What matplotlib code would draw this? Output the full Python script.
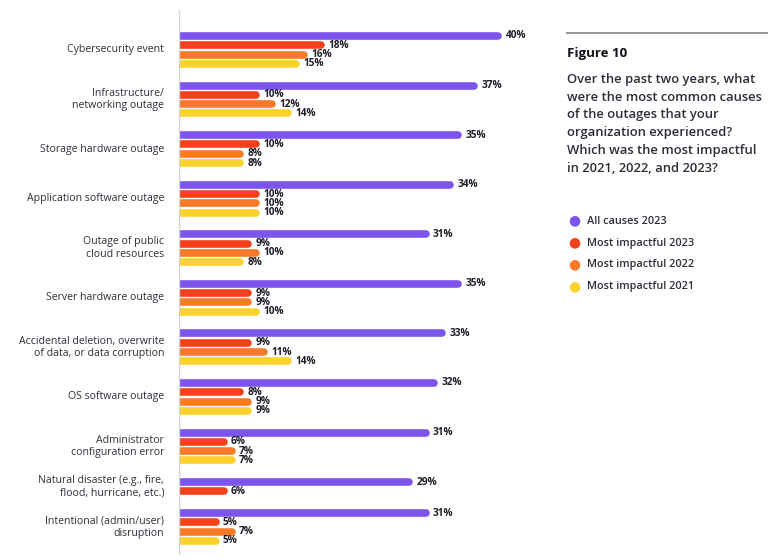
"""Figure 10: most common and most impactful causes of outages."""
import matplotlib.pyplot as plt
import numpy as np

plt.rcParams["font.family"] = ["Open Sans", "DejaVu Sans"]

categories = [
    "Cybersecurity event",
    "Infrastructure/\nnetworking outage",
    "Storage hardware outage",
    "Application software outage",
    "Outage of public\ncloud resources",
    "Server hardware outage",
    "Accidental deletion, overwrite\nof data, or data corruption",
    "OS software outage",
    "Administrator\nconfiguration error",
    "Natural disaster (e.g., fire,\nflood, hurricane, etc.)",
    "Intentional (admin/user)\ndisruption",
]
all_causes_2023 = [40, 37, 35, 34, 31, 35, 33, 32, 31, 29, 31]
impactful_2023 = [18, 10, 10, 10, 9, 9, 9, 8, 6, 6, 5]
impactful_2022 = [16, 12, 8, 10, 10, 9, 11, 9, 7, None, 7]
impactful_2021 = [15, 14, 8, 10, 8, 10, 14, 9, 7, None, 5]

series_names = ["All causes 2023", "Most impactful 2023", "Most impactful 2022", "Most impactful 2021"]
series_values = [all_causes_2023, impactful_2023, impactful_2022, impactful_2021]
colors = ["#7B55EC", "#F4411C", "#F97A26", "#FDD22F"]
text_color = "#2E2E3A"

W, H = 768, 559
fig = plt.figure(figsize=(W / 100, H / 100), dpi=100)
ax_left, ax_right, ax_top, ax_bottom = 179, 532, 10, 555
ax = fig.add_axes([ax_left / W, 1 - ax_bottom / H, (ax_right - ax_left) / W, (ax_bottom - ax_top) / H])

gap = 1.33
xmax = 43.7
px_per_unit = (ax_right - ax_left) / xmax
bar_px = 7.6
lw = bar_px * 72 / 100
cap = (bar_px / 2) / px_per_unit

y = 0.0
centers = []
for i, cat in enumerate(categories):
    ys = []
    for s, vals in enumerate(series_values):
        v = vals[i]
        if v is None:
            continue
        ax.hlines(y, 0, v - cap, color=colors[s], linewidth=lw, capstyle="round")
        ax.text(v + 0.45, y, f"{v}%", va="center", ha="left", fontsize=7.3,
                fontweight="bold", color="#1E1E28")
        ys.append(y)
        y += 1
    centers.append(np.mean(ys))
    y += gap

first_px, step_px = 36, 9.3
top_units = (first_px - ax_top) / step_px
bottom_units = (ax_bottom - ax_top) / step_px - top_units
ax.set_ylim(bottom_units, -top_units)
ax.set_xlim(0, xmax)

for c, cat in zip(centers, categories):
    ax.text(-1.85, c, cat, ha="right", va="center", fontsize=7.6, color=text_color,
            linespacing=1.2)

ax.axvline(0, color="#D0D0D6", linewidth=1.0)
for sp in ax.spines.values():
    sp.set_visible(False)
ax.set_xticks([])
ax.set_yticks([])
ax.patch.set_alpha(0)

# right-hand panel
fig.add_artist(plt.Line2D([567 / W, 1], [1 - 33 / H, 1 - 33 / H], color="#9A9A9A", linewidth=1.5))
fig.text(567 / W, 1 - 53 / H, "Figure 10", ha="left", va="center", fontsize=9.5,
         fontweight="bold", color="#111118")
question = ("Over the past two years, what\nwere the most common causes\nof the outages that your\n"
            "organization experienced?\nWhich was the most impactful\nin 2021, 2022, and 2023?")
fig.text(567 / W, 1 - 73 / H, question, ha="left", va="top", fontsize=9.4,
         fontweight="semibold", color=text_color, linespacing=1.47)

for k, name in enumerate(series_names):
    yy = 1 - (221 + 22 * k) / H
    fig.text(574 / W, yy, "\u25CF", ha="center", va="center", fontsize=10, color=colors[k])
    fig.text(587 / W, yy, name, ha="left", va="center", fontsize=7.8,
             fontweight="semibold", color=text_color)

fig.savefig("out.png", dpi=100)
